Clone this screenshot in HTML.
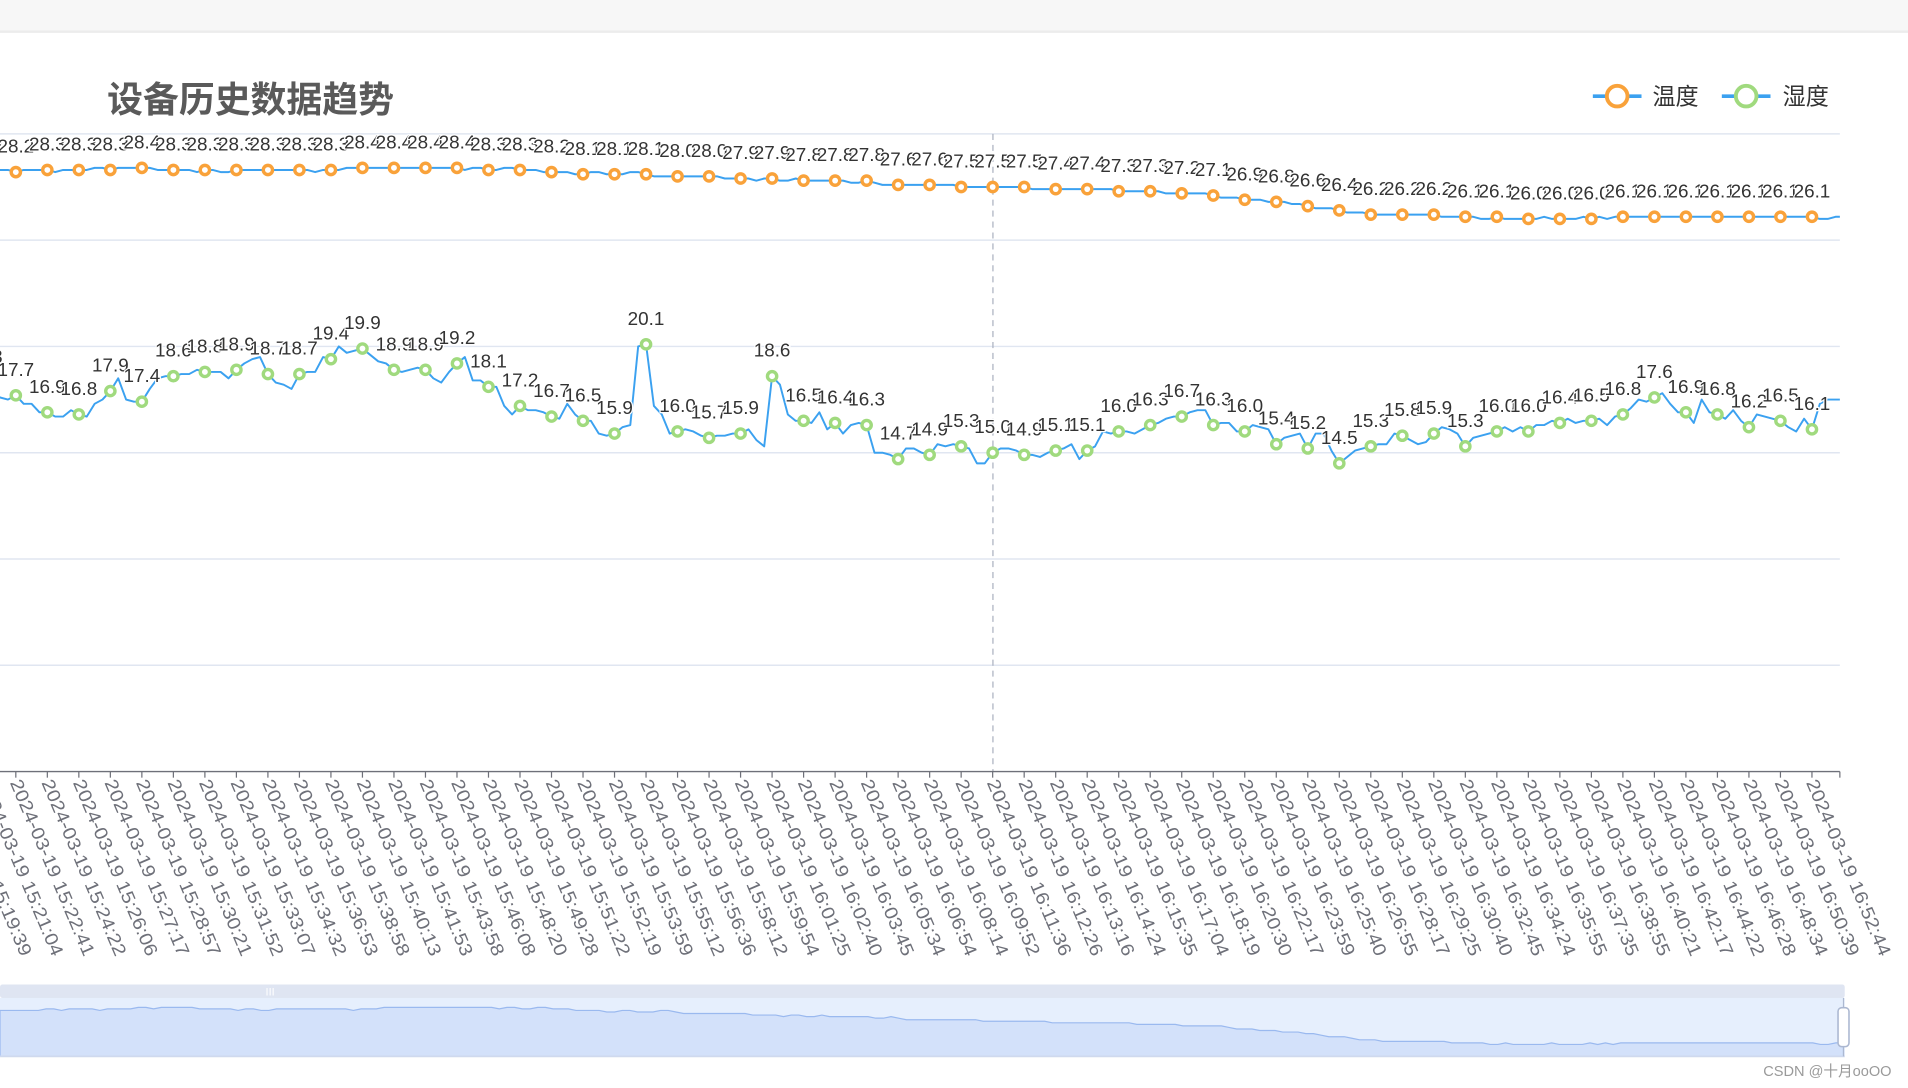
<!DOCTYPE html>
<html><head><meta charset="utf-8"><style>
html,body{margin:0;padding:0;background:#fff;width:1908px;height:1088px;overflow:hidden}
svg{display:block}
text{font-family:"Liberation Sans","Noto Sans CJK SC",sans-serif}
</style></head><body>
<svg id="chart" width="1908" height="1088" viewBox="0 0 1568 894" preserveAspectRatio="none" xmlns="http://www.w3.org/2000/svg">
<rect x="0" y="0" width="1568" height="25" fill="#f7f7f7"/>
<rect x="0" y="25" width="1568" height="2" fill="#ececec"/>
<text x="88" y="92" font-size="29.5" font-weight="bold" fill="#5a5a5a" style='font-family:"Noto Sans CJK SC",sans-serif'>设备历史数据趋势</text>
<g>
<line x1="1309" y1="79" x2="1349" y2="79" stroke="#3ba1f0" stroke-width="3"/>
<circle cx="1329" cy="79" r="8.5" fill="#fff" stroke="#f9a23a" stroke-width="3.2"/>
<text x="1358" y="86" font-size="19" fill="#333" style='font-family:"Noto Sans CJK SC",sans-serif'>温度</text>
</g>
<g>
<line x1="1415" y1="79" x2="1455" y2="79" stroke="#3ba1f0" stroke-width="3"/>
<circle cx="1435" cy="79" r="8.5" fill="#fff" stroke="#a0da7e" stroke-width="3.2"/>
<text x="1465" y="86" font-size="19" fill="#333" style='font-family:"Noto Sans CJK SC",sans-serif'>湿度</text>
</g>
<g id="grid"></g>
<g id="plot"></g>
<g id="xaxis"></g>
<g id="zoom"></g>
<text x="1449" y="884" font-size="12" fill="#9a9a9a">CSDN @十月ooOO</text>
</svg>
<script>
const tickLabels = ["2024-03-19 15:19:39","2024-03-19 15:21:04","2024-03-19 15:22:41","2024-03-19 15:24:22","2024-03-19 15:26:06","2024-03-19 15:27:17","2024-03-19 15:28:57","2024-03-19 15:30:21","2024-03-19 15:31:52","2024-03-19 15:33:07","2024-03-19 15:34:32","2024-03-19 15:36:53","2024-03-19 15:38:58","2024-03-19 15:40:13","2024-03-19 15:41:53","2024-03-19 15:43:58","2024-03-19 15:46:08","2024-03-19 15:48:20","2024-03-19 15:49:28","2024-03-19 15:51:22","2024-03-19 15:52:19","2024-03-19 15:53:59","2024-03-19 15:55:12","2024-03-19 15:56:36","2024-03-19 15:58:12","2024-03-19 15:59:54","2024-03-19 16:01:25","2024-03-19 16:02:40","2024-03-19 16:03:45","2024-03-19 16:05:34","2024-03-19 16:06:54","2024-03-19 16:08:14","2024-03-19 16:09:52","2024-03-19 16:11:36","2024-03-19 16:12:26","2024-03-19 16:13:16","2024-03-19 16:14:24","2024-03-19 16:15:35","2024-03-19 16:17:04","2024-03-19 16:18:19","2024-03-19 16:20:30","2024-03-19 16:22:17","2024-03-19 16:23:59","2024-03-19 16:25:40","2024-03-19 16:26:55","2024-03-19 16:28:17","2024-03-19 16:29:25","2024-03-19 16:30:40","2024-03-19 16:32:45","2024-03-19 16:34:24","2024-03-19 16:35:55","2024-03-19 16:37:35","2024-03-19 16:38:55","2024-03-19 16:40:21","2024-03-19 16:42:17","2024-03-19 16:44:22","2024-03-19 16:46:28","2024-03-19 16:48:34","2024-03-19 16:50:39","2024-03-19 16:52:44"];
const humidity = [
18.0,18.1,18.2,18.2, 18.3,17.9,17.6,17.5, 17.7,17.3,17.3,16.9, 16.9,16.7,16.7,17.0, 16.8,16.7,17.3,17.5,
17.9,18.5,17.5,17.4, 17.4,18.0,18.5,18.6, 18.6,18.7,18.7,18.9, 18.8,18.8,18.8,18.5, 18.9,19.2,19.4,19.5,
18.7,18.3,18.2,18.0, 18.7,18.8,18.8,19.5, 19.4,20.0,19.7,19.8, 19.9,19.6,19.3,19.2, 18.9,18.8,18.9,19.0,
18.9,18.5,18.3,18.8, 19.2,19.5,18.4,18.4, 18.1,18.1,17.2,16.8, 17.2,17.0,17.0,16.9, 16.7,16.6,17.3,16.8,
16.5,16.5,15.9,15.8, 15.9,16.2,16.3,20.0, 20.1,17.2,16.8,15.9, 16.0,16.1,16.0,15.8, 15.7,15.8,15.8,15.9,
15.9,16.1,15.6,15.3, 18.6,18.2,16.8,16.5, 16.5,16.4,16.9,16.1, 16.4,15.9,16.3,16.4, 16.3,15.0,15.0,14.9,
14.7,15.2,15.2,15.0, 14.9,15.4,15.3,15.4, 15.3,15.2,14.5,14.5, 15.0,15.2,15.2,15.1, 14.9,14.9,14.8,15.0,
15.1,15.2,15.4,14.7, 15.1,15.3,16.0,15.9, 16.0,16.0,15.9,16.1, 16.3,16.4,16.6,16.7, 16.7,16.9,17.0,17.0,
16.3,16.4,16.4,16.0, 16.0,16.3,16.2,16.1, 15.4,15.7,15.8,15.9, 15.2,15.9,15.9,15.1, 14.5,14.8,15.1,15.2,
15.3,15.4,15.4,15.9, 15.8,15.6,15.4,15.5, 15.9,16.2,16.1,15.9, 15.3,15.7,15.8,15.9, 16.0,16.2,16.0,16.2,
16.0,16.3,16.3,16.5, 16.4,16.6,16.4,16.5, 16.5,16.6,16.3,16.7, 16.8,17.1,17.5,17.4, 17.6,17.8,17.3,16.9,
16.9,16.4,17.5,16.9, 16.8,16.6,17.0,16.5, 16.2,16.8,16.7,16.6, 16.5,16.2,16.0,16.6, 16.1,17.3,17.5,17.5,17.5];
const temperature = [
28.2,28.2,28.2,28.2, 28.2,28.2,28.3,28.3, 28.2,28.3,28.3,28.3, 28.3,28.2,28.3,28.3, 28.3,28.3,28.4,28.4,
28.3,28.4,28.4,28.4, 28.4,28.4,28.3,28.3, 28.3,28.3,28.3,28.2, 28.3,28.3,28.2,28.2, 28.3,28.3,28.3,28.3,
28.3,28.3,28.3,28.3, 28.3,28.3,28.2,28.3, 28.3,28.3,28.4,28.4, 28.4,28.4,28.4,28.4, 28.4,28.4,28.4,28.4,
28.4,28.4,28.4,28.4, 28.4,28.3,28.4,28.4, 28.3,28.3,28.4,28.4, 28.3,28.3,28.3,28.2, 28.2,28.2,28.2,28.1,
28.1,28.2,28.2,28.1, 28.1,28.1,28.2,28.2, 28.1,28.0,28.0,28.0, 28.0,28.0,28.0,28.0, 28.0,28.0,27.9,27.9,
27.9,27.9,27.8,27.9, 27.9,27.8,27.8,27.9, 27.8,27.8,27.8,27.8, 27.8,27.8,27.7,27.7, 27.8,27.7,27.6,27.6,
27.6,27.6,27.6,27.6, 27.6,27.6,27.6,27.6, 27.5,27.5,27.5,27.5, 27.5,27.5,27.5,27.5, 27.5,27.4,27.4,27.4,
27.4,27.4,27.4,27.4, 27.4,27.4,27.4,27.4, 27.3,27.3,27.3,27.3, 27.3,27.3,27.2,27.2, 27.2,27.2,27.2,27.2,
27.1,27.0,27.0,27.0, 26.9,26.9,26.9,26.8, 26.8,26.8,26.7,26.7, 26.6,26.5,26.5,26.5, 26.4,26.3,26.3,26.3,
26.2,26.2,26.2,26.2, 26.2,26.2,26.2,26.2, 26.2,26.1,26.1,26.1, 26.1,26.1,26.0,26.0, 26.1,26.0,26.0,26.0,
26.0,26.0,26.1,26.0, 26.0,26.0,26.0,26.1, 26.0,26.1,26.0,26.1, 26.1,26.1,26.1,26.1, 26.1,26.1,26.1,26.1,
26.1,26.1,26.1,26.1, 26.1,26.1,26.1,26.1, 26.1,26.1,26.1,26.1, 26.1,26.1,26.1,26.1, 26.1,26.0,26.0,26.1,26.1];
const yTicks = [0,5,10,15,20,25,30];

const NS = "http://www.w3.org/2000/svg";
const X0 = 13, STEP = 6.474, FIRST_MARK = 8, MARK_EVERY = 4;
const Y0 = 634, PXU = 17.467, RIGHT = 1512;
function xOf(i){ return X0 + (i - FIRST_MARK) * STEP; }
function yOf(v){ return Y0 - v * PXU; }
function mk(tag, attrs, parent){ const e = document.createElementNS(NS, tag); for (const k in attrs) e.setAttribute(k, attrs[k]); parent.appendChild(e); return e; }

const svg = document.getElementById('chart');
const defs = mk('defs', {}, svg);
const cp = mk('clipPath', {id:'plotclip'}, defs);
mk('rect', {x:0, y:90, width:RIGHT, height:560}, cp);

const grid = document.getElementById('grid');
yTicks.forEach(t => {
  if (t === 0) return;
  const l = mk('line', {x1:0, x2:RIGHT, y1:yOf(t), y2:yOf(t), stroke:'#e0e6f1', 'stroke-width':1.2}, grid);
  
  
});

const plot = document.getElementById('plot');
plot.setAttribute('clip-path', 'url(#plotclip)');
const pointer = mk('line', {x1:816, x2:816, y1:110, y2:634, stroke:'#aab0bf', 'stroke-width':1, 'stroke-dasharray':'5,4'}, plot);



function drawSeries(vals, color, name){
  const g = mk('g', {}, plot);
  
  
  const pts = vals.map((v, i) => xOf(i).toFixed(2) + ',' + yOf(v).toFixed(2)).join(' ');
  const line = mk('polyline', {points:pts, fill:'none', stroke:'#3ba1f0', 'stroke-width':1.6, 'stroke-linejoin':'round'}, g);
  
  
  vals.forEach((v, i) => {
    if (i % MARK_EVERY !== 0 || xOf(i) > RIGHT) return;
    const x = xOf(i), y = yOf(v);
    const c = mk('circle', {cx:x, cy:y, r:3.8, fill:'#fff', stroke:color, 'stroke-width':2.8}, g);
    
    
  });
  vals.forEach((v, i) => {
    if (i % MARK_EVERY !== 0 || xOf(i) > RIGHT) return;
    const x = xOf(i), y = yOf(v);
    const t = mk('text', {x:x, y:y - 16, 'text-anchor':'middle', 'font-size':15.5, fill:'#333', stroke:'#fff', 'stroke-width':2, 'paint-order':'stroke'}, g);
    t.textContent = v.toFixed(1);
    
    
  });
}
drawSeries(temperature, '#f9a23a', 'temperature');
drawSeries(humidity, '#a0da7e', 'humidity');

const xa = document.getElementById('xaxis');
const axisLine = mk('line', {x1:0, x2:RIGHT, y1:Y0, y2:Y0, stroke:'#6e7079', 'stroke-width':1.2}, xa);


const endTick = mk('line', {x1:RIGHT, x2:RIGHT, y1:Y0, y2:Y0 + 5, stroke:'#6e7079', 'stroke-width':1}, xa);


tickLabels.forEach((lab, k) => {
  const x = xOf(k * MARK_EVERY);
  const tk = mk('line', {x1:x, x2:x, y1:Y0, y2:Y0 + 5, stroke:'#6e7079', 'stroke-width':1}, xa);
  
  
  const t = mk('text', {transform:'translate(' + (x - 5).toFixed(2) + ',' + (Y0 + 9) + ') rotate(67)', 'font-size':15, fill:'#6e7079', textLength:156, lengthAdjust:'spacingAndGlyphs'}, xa);
  t.textContent = lab;
  
  
});

const zg = document.getElementById('zoom');
const zt = mk('rect', {x:0, y:809, width:1516, height:11, fill:'#dfe5f2', rx:2}, zg);


const zb = mk('rect', {x:0, y:820, width:1516, height:48, fill:'#e6effd'}, zg);


const N = temperature.length;
let zp = '0,868 ';
temperature.forEach((v, i) => { zp += (i / (N - 1) * 1515).toFixed(2) + ',' + (829 - (v - 28.3) * 12.7).toFixed(2) + ' '; });
zp += '1515,868';
const za = mk('polygon', {points:zp, fill:'#d3e1fa', stroke:'#9ab9ef', 'stroke-width':1}, zg);


const zbl = mk('line', {x1:0, x2:1516, y1:868, y2:868, stroke:'#cfd9ee', 'stroke-width':1.5}, zg);


const grip = mk('text', {x:222, y:818, 'font-size':9, fill:'#fff', 'text-anchor':'middle'}, zg);
grip.textContent = 'III';


const hl = mk('line', {x1:1515, x2:1515, y1:820, y2:868, stroke:'#acb8d1', 'stroke-width':1}, zg);


const hr = mk('rect', {x:1510.5, y:828, width:9, height:32, rx:3, fill:'#fff', stroke:'#acb8d1', 'stroke-width':1.3}, zg);


</script>
</body></html>
